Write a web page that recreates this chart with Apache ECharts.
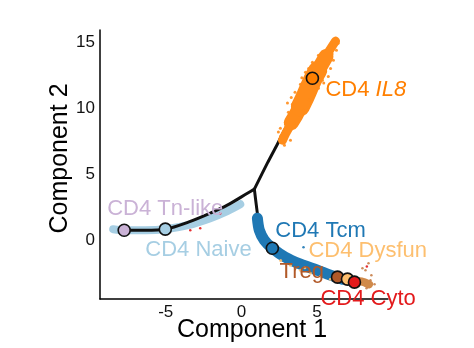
<!DOCTYPE html>
<html>
<head>
<meta charset="utf-8">
<script src="https://cdn.jsdelivr.net/npm/echarts@6/dist/echarts.min.js"></script>
<style>
  html, body { margin: 0; padding: 0; background: #fff; }
  #chart { width: 474px; height: 348px; }
</style>
</head>
<body>
<div id="chart"></div>
<script>
// Pseudotime trajectory of CD4 T cell states (Component 1 vs Component 2)

// Axis ticks
const xTicks = [-5, 0, 5];
const yTicks = [0, 5, 10, 15];

// Cluster centroids along the trajectory
const stateNames = ['CD4 Tn-like', 'CD4 Naive', 'CD4 Tcm', 'Treg', 'CD4 Dysfun', 'CD4 Cyto', 'CD4 IL8'];
const stateX = [-7.75, -5.03, 2.05, 6.36, 7.02, 7.48, 4.70];
const stateY = [0.79, 0.87, -0.57, -2.75, -2.90, -3.13, 12.26];
const stateColors = ['#CAB2D6', '#A6CEE3', '#1F78B4', '#B15928', '#FDBF6F', '#E31A1C', '#FF7F00'];

// Principal graph branches
const branchLeft = [[0.86, 3.89], [0.40, 3.58], [-0.93, 2.68], [-2.05, 2.08], [-3.51, 1.40], [-5.03, 0.87], [-6.36, 0.79], [-7.75, 0.79]];
const branchUp = [[0.86, 3.89], [1.72, 5.85], [2.45, 7.43], [3.30, 9.30], [4.70, 12.26]];
const branchDown = [[0.86, 3.89], [0.99, 2.68], [1.13, 1.55], [1.39, 0.34], [2.05, -0.57], [3.25, -1.62], [5.03, -2.38], [6.36, -2.75], [7.02, -2.90], [7.48, -3.13]];

// Dense cell bands along each branch
const naiveBand = [[-8.48, 0.87], [-7.75, 0.79], [-6.36, 0.79], [-5.03, 0.87], [-3.51, 1.17], [-2.05, 1.70], [-0.93, 2.23], [-0.07, 2.75]];
const tcmBand = [[1.06, 1.70], [1.19, 0.79], [1.52, 0.04], [2.05, -0.57], [2.91, -1.25], [3.91, -1.77], [5.03, -2.23], [5.89, -2.60], [6.69, -2.91]];
const il8Band = [[2.72, 7.58], [2.98, 8.19], [3.64, 9.55], [4.24, 10.91], [4.70, 12.11], [5.23, 13.17], [5.76, 14.23], [6.23, 15.06]];
const il8Core = [[3.30, 8.90], [3.64, 9.55], [4.24, 10.91], [4.70, 12.11], [5.23, 13.17], [5.60, 13.90]];
const il8Mid = [[3.90, 10.10], [4.24, 10.91], [4.70, 12.11], [5.05, 12.85]];
const cytoBand = [[7.20, -3.00], [7.95, -3.08], [8.45, -3.30]];

// Scattered cells off the main bands
const il8Cells = [[2.91, 8.94], [3.11, 9.70], [2.58, 8.49], [3.38, 10.30], [3.77, 10.98], [3.51, 8.87], [4.11, 9.85], [4.50, 10.60],
  [5.10, 11.51], [5.36, 12.11], [5.56, 12.87], [6.09, 13.62], [5.96, 14.76], [6.29, 14.38], [3.91, 11.81], [4.24, 12.72],
  [4.70, 13.47], [5.10, 14.00], [3.25, 7.58], [2.85, 7.21], [3.05, 10.4], [5.9, 13.0], [2.6, 7.9], [6.4, 14.9],
  [3.55, 11.2], [3.3, 10.8], [4.0, 12.3], [5.75, 12.4], [6.0, 14.1], [2.45, 8.2], [4.45, 13.0], [5.45, 11.9]];
const dysfunCells = [[3.91, -2.23], [4.57, -2.45], [5.23, -2.68], [3.25, -1.85], [5.89, -2.91], [2.6, -1.5], [4.2, -2.05]];
const cytoCells = [[8.21, -2.23], [8.41, -1.70], [8.01, -2.08], [8.54, -2.98], [8.81, -3.28], [8.28, -3.58], [7.75, -3.43], [8.6, -2.6]];
const redCells = [[-3.38, 0.79], [-2.72, 0.94], [-1.4, 2.05], [8.3, -1.95]];
const tcmCells = [[4.11, -0.49]];

// Centroid label placement (offset of text start from centroid)
const labelOffsets = [[-17, -21], [-20, 21], [3, -17], [-58, -5], [-39, -28], [-34, 17], [13, 12]];

const FONT = 'Liberation Sans, Arial, sans-serif';

function band(data, color, width, z) {
  return {
    type: 'line', data: data, showSymbol: false, smooth: 0.3, silent: true, z: z,
    lineStyle: { color: color, width: width, cap: 'round', join: 'round' }
  };
}
function cells(data, color, size, z) {
  return {
    type: 'scatter', data: data, symbolSize: size, silent: true, z: z,
    itemStyle: { color: color, opacity: 0.9 }
  };
}

const centroidData = stateNames.map((name, i) => ({
  name: name,
  value: [stateX[i], stateY[i]],
  itemStyle: { color: stateColors[i] },
  label: {
    color: stateColors[i],
    offset: labelOffsets[i],
    formatter: name === 'CD4 IL8' ? '{n|CD4 }{i|IL8}' : name,
    rich: name === 'CD4 IL8' ? {
      n: { color: stateColors[i], fontSize: 22, fontFamily: FONT },
      i: { color: stateColors[i], fontSize: 22, fontFamily: FONT, fontStyle: 'italic' }
    } : undefined
  }
}));

const chart = echarts.init(document.getElementById('chart'), null, { renderer: 'canvas' });
chart.setOption({
  animation: false,
  backgroundColor: '#ffffff',
  grid: { left: 100, top: 30, width: 288, height: 269, containLabel: false, outerBoundsMode: 'none' },
  xAxis: {
    type: 'value', min: -9.35, max: 9.7,
    name: 'Component 1', nameLocation: 'middle', nameGap: 19, nameMoveOverlap: false,
    nameTextStyle: { fontSize: 25, color: '#000', fontFamily: FONT, verticalAlign: 'top', padding: [0, 0, 0, 16] },
    axisLine: { onZero: false, lineStyle: { color: '#000', width: 1.5 } },
    axisTick: { show: false },
    splitLine: { show: false },
    axisLabel: { customValues: xTicks, fontSize: 17, color: '#111', margin: 5, fontFamily: FONT }
  },
  yAxis: {
    type: 'value', min: -4.4, max: 15.9,
    name: 'Component 2', nameLocation: 'middle', nameGap: 27, nameMoveOverlap: false,
    nameTextStyle: { fontSize: 25, color: '#000', fontFamily: FONT, padding: [0, 0, 0, 12] },
    axisLine: { onZero: false, lineStyle: { color: '#000', width: 1.5 } },
    axisTick: { show: false },
    splitLine: { show: false },
    axisLabel: { customValues: yTicks, fontSize: 17, color: '#111', margin: 5, fontFamily: FONT }
  },
  series: [
    band(naiveBand, '#A6CEE3', 8, 2),
    cells(redCells, '#E31A1C', 2.5, 2),
    band(branchLeft, '#111111', 3, 3),
    band(branchUp, '#111111', 3, 3),
    band(branchDown, '#111111', 3, 3),
    band(cytoBand, '#D08A4A', 8, 4),
    cells(cytoCells, '#C8804A', 2.5, 4),
    band(tcmBand, '#1F78B4', 11, 5),
    cells(dysfunCells, '#FDBF6F', 3, 5),
    cells(tcmCells, '#1F78B4', 2.5, 5),
    band(il8Band, '#FF8C1A', 9, 5),
    band(il8Core, '#FF8C1A', 15, 5),
    band(il8Mid, '#FF8C1A', 19, 5),
    cells(il8Cells, '#FF8C1A', 3, 5),
    {
      type: 'scatter', z: 10,
      data: centroidData,
      symbolSize: 12,
      itemStyle: { borderColor: '#111', borderWidth: 1.6, opacity: 1 },
      label: {
        show: true, position: 'inside', align: 'left', verticalAlign: 'middle',
        fontSize: 22, fontFamily: FONT
      }
    }
  ]
});
</script>
</body>
</html>
